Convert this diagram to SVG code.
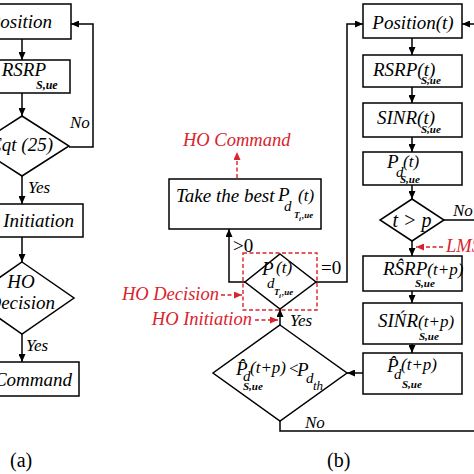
<svg xmlns="http://www.w3.org/2000/svg" width="474" height="474" viewBox="0 0 474 474">
<defs>
<marker id="ar" markerUnits="userSpaceOnUse" markerWidth="8" markerHeight="7" refX="8" refY="3.5" orient="auto"><path d="M0,0 L8,3.5 L0,7 z" fill="#000"/></marker>
<marker id="arr" markerUnits="userSpaceOnUse" markerWidth="8" markerHeight="7" refX="8" refY="3.5" orient="auto"><path d="M0,0 L8,3.5 L0,7 z" fill="#d9232d"/></marker>
<style>
.b{fill:#fff;stroke:#000;stroke-width:1.5}
.c{fill:none;stroke:#000;stroke-width:1.5}
.r{fill:none;stroke:#d9232d;stroke-width:1.4;stroke-dasharray:4 2.5}
text{font-family:"Liberation Serif","Times New Roman",serif;font-style:italic;fill:#000}
.t{font-size:19px}
.s{font-size:17px}
.sub{font-size:11px;font-weight:bold}
.red{fill:#d9232d;font-size:18.5px}
.up{font-style:normal;font-size:20px}
</style>
</defs>
<rect width="474" height="474" fill="#fff"/>

<g id="connectors">
<!-- left (a) -->
<line class="c" x1="22" y1="39" x2="22" y2="60" marker-end="url(#ar)"/>
<line class="c" x1="22" y1="93" x2="22" y2="116" marker-end="url(#ar)"/>
<polyline class="c" points="69,147 93,147 93,24 71,24" marker-end="url(#ar)"/>
<line class="c" x1="22" y1="176" x2="22" y2="204" marker-end="url(#ar)"/>
<line class="c" x1="22" y1="237" x2="22" y2="262" marker-end="url(#ar)"/>
<line class="c" x1="22" y1="334" x2="22" y2="362" marker-end="url(#ar)"/>
<!-- right (b) -->
<line class="c" x1="474" y1="24" x2="462" y2="24" marker-end="url(#ar)"/>
<polyline class="c" points="316,282 347,282 347,24 363,24" marker-end="url(#ar)"/>
<line class="c" x1="412" y1="38" x2="412" y2="55" marker-end="url(#ar)"/>
<line class="c" x1="412" y1="87" x2="412" y2="103" marker-end="url(#ar)"/>
<line class="c" x1="412" y1="137" x2="412" y2="152" marker-end="url(#ar)"/>
<line class="c" x1="412" y1="185" x2="412" y2="199" marker-end="url(#ar)"/>
<line class="c" x1="444" y1="220" x2="474" y2="220"/>
<line class="c" x1="412" y1="241" x2="412" y2="256" marker-end="url(#ar)"/>
<line class="c" x1="412" y1="291" x2="412" y2="303" marker-end="url(#ar)"/>
<line class="c" x1="412" y1="344" x2="412" y2="353" marker-end="url(#ar)"/>
<line class="c" x1="363" y1="373" x2="347" y2="373" marker-end="url(#ar)"/>
<polyline class="c" points="280,421 280,431 474,431"/>
<line class="c" x1="280" y1="325" x2="280" y2="309" marker-end="url(#ar)"/>
<polyline class="c" points="245,282 229,282 229,229" marker-end="url(#ar)"/>
<!-- red dashed -->
<line class="r" x1="237" y1="178" x2="237" y2="152" marker-end="url(#arr)"/>
<line class="r" x1="221" y1="295" x2="242" y2="295" marker-end="url(#arr)"/>
<line class="r" x1="255" y1="320" x2="278" y2="320" marker-end="url(#arr)"/>
<line class="r" x1="443" y1="247" x2="416" y2="247" marker-end="url(#arr)"/>
<rect class="r" x="243" y="253" width="74" height="57"/>
</g>

<!-- labels on connectors -->
<g id="labels">
<text class="s" x="70" y="128">No</text>
<text class="s" x="28" y="193">Yes</text>
<text class="s" x="26" y="351">Yes</text>
<text class="up" x="10" y="467">(a)</text>
<text class="up" x="327" y="467">(b)</text>
<text class="s" x="453" y="216">No</text>
<text class="s" x="305" y="428">No</text>
<text class="s" x="290" y="326">Yes</text>
<text class="up" x="233" y="252" style="font-size:19px">&gt;0</text>
<text class="up" x="321" y="274" style="font-size:19px">=0</text>
<text class="red" x="183" y="146">HO Command</text>
<text class="red" x="219" y="300" text-anchor="end">HO Decision</text>
<text class="red" x="252" y="325" text-anchor="end">HO Initiation</text>
<text class="red" x="446" y="252">LMS</text>
</g>

<!-- left nodes -->
<g id="a-position"><rect class="b" x="-30" y="4" width="101" height="35"/><text class="t" x="52" y="28" text-anchor="end">Position</text></g>
<g id="a-rsrp"><rect class="b" x="-30" y="60" width="100" height="33"/><text class="t" x="46" y="76" text-anchor="end">RSRP</text><text class="sub" x="36" y="89" style="font-size:12px">S,ue</text></g>
<g id="a-eqt"><polygon class="b" points="22,116 69,146 22,176 -25,146"/><text class="t" x="53" y="151" text-anchor="end">Eqt (25)</text></g>
<g id="a-init"><rect class="b" x="-30" y="204" width="113" height="33"/><text class="t" x="74" y="227" text-anchor="end">HO Initiation</text></g>
<g id="a-dec"><polygon class="b" points="22,262 74,298 22,334 -30,298"/><text class="t" x="21" y="288" text-anchor="middle">HO</text><text class="t" x="55" y="309" text-anchor="end">Decision</text></g>
<g id="a-cmd"><rect class="b" x="-30" y="362" width="109" height="34"/><text class="t" x="72" y="386" text-anchor="end">HO Command</text></g>

<!-- right nodes -->
<g id="b-position"><rect class="b" x="363" y="4" width="99" height="34"/><text class="t" x="413" y="29" text-anchor="middle">Position(t)</text></g>
<g id="b-rsrp"><rect class="b" x="363" y="55" width="99" height="32"/><text class="t" x="373" y="76">RSRP(t)</text><text class="sub" x="421" y="84">S,ue</text></g>
<g id="b-sinr"><rect class="b" x="363" y="103" width="99" height="34"/><text class="t" x="377" y="124">SINR(t)</text><text class="sub" x="421" y="133">S,ue</text></g>
<g id="b-pd"><rect class="b" x="363" y="152" width="99" height="33"/><text class="t" x="387" y="168">P</text><text style="font-size:15px" x="396" y="177">d</text><text class="s" x="403" y="167">(t)</text><text class="sub" x="400" y="183">S,ue</text></g>
<g id="b-tp"><polygon class="b" points="412,199 444,220 412,241 380,220"/><text x="412" y="227" text-anchor="middle" style="font-size:20px">t &gt; p</text></g>
<g id="b-rsrphat"><rect class="b" x="363" y="256" width="99" height="35"/><text class="t" x="383" y="275">R&#x15C;RP<tspan class="s">(t+p)</tspan></text><text class="sub" x="415" y="287">S,ue</text></g>
<g id="b-sinrhat"><rect class="b" x="363" y="303" width="99" height="41"/><text class="t" x="378" y="327">SI&#x143;R<tspan class="s">(t+p)</tspan></text><text class="sub" x="419" y="340">S,ue</text></g>
<g id="b-pdhat"><rect class="b" x="363" y="353" width="99" height="41"/><text class="t" x="387" y="372">P&#x302;</text><text style="font-size:15px" x="394" y="379">d</text><text class="s" x="401" y="370">(t+p)</text><text class="sub" x="402" y="388">S,ue</text></g>
<g id="b-cond"><polygon class="b" points="280,325 347,373 280,421 213,373"/><text class="t" x="236" y="375">P&#x302;</text><text style="font-size:15px" x="243" y="381">d</text><text class="s" x="250" y="373">(t+p)</text><text class="s" x="289" y="374" style="font-style:normal">&lt;</text><text class="t" x="297" y="376">P</text><text style="font-size:15px" x="306" y="383">d</text><text style="font-size:13px" x="313" y="390">th</text><text class="sub" x="243" y="390">S,ue</text></g>
<g id="b-decision"><polygon class="b" points="280,254 316,282 280,309 245,282"/><text class="t" x="262" y="275">P</text><text style="font-size:15px" x="267" y="288">d</text><text class="s" x="276" y="273">(t)</text><text style="font-size:9px;font-weight:bold" x="274" y="295">T</text><text style="font-size:7px;font-weight:bold" x="279" y="298">i</text><text style="font-size:9px;font-weight:bold" x="282" y="295">,ue</text></g>
<g id="b-best"><rect class="b" x="169" y="179" width="152" height="50"/><text class="t" x="176" y="202">Take the best</text><text class="t" x="278" y="201">P</text><text style="font-size:15px" x="284" y="211">d</text><text class="s" x="298" y="201">(t)</text><text style="font-size:9px;font-weight:bold" x="294" y="218">T</text><text style="font-size:7px;font-weight:bold" x="299" y="221">i</text><text style="font-size:9px;font-weight:bold" x="302" y="218">,ue</text></g>
</svg>
